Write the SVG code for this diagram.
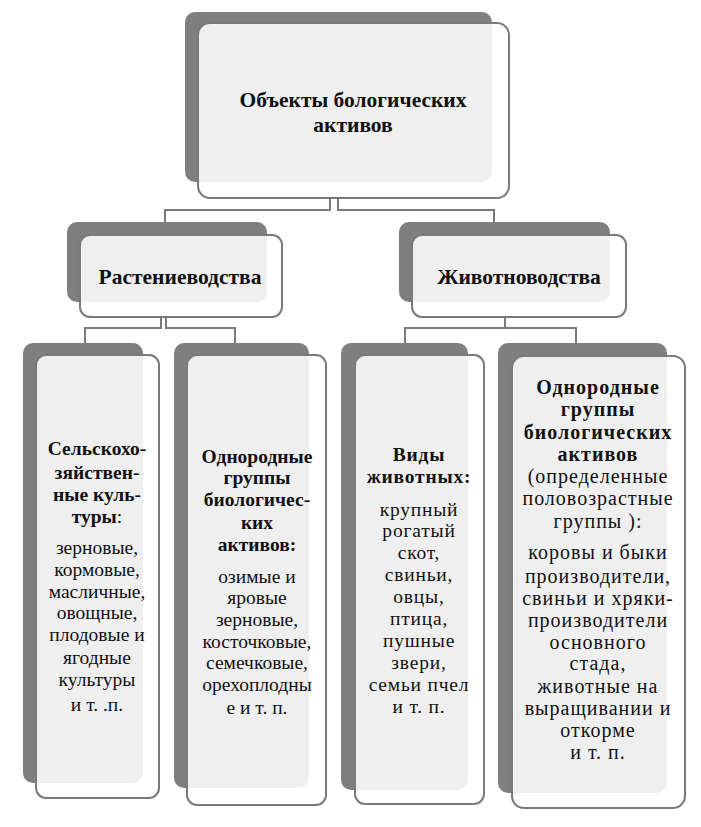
<svg xmlns="http://www.w3.org/2000/svg" width="701" height="827" viewBox="0 0 701 827">
<style>
.back{fill:#7f7f7f}
.front{fill:#fff;fill-opacity:0.88;stroke:#7a7a7a;stroke-width:2}
.con{fill:none;stroke:#7a7a7a;stroke-width:2}
text{fill:#111;text-anchor:middle;font-size:19.5px}
.b{font-weight:bold}
.h{font-weight:bold;font-size:21.5px}
.s3{font-size:19.5px;letter-spacing:0.8px}
.s4{font-size:20px;letter-spacing:1px}
</style>
<rect width="701" height="827" fill="#fff"/>
<g id="connectors">
<path class="con" d="M330,198 V210 H165 V224"/>
<path class="con" d="M338,198 V210 H494 V224"/>
<path class="con" d="M161,317 V328 H85 V345"/>
<path class="con" d="M166,317 V328 H235 V345"/>
<path class="con" d="M505,317 V328 H405 V345"/>
<path class="con" d="M505,328 H576 V345"/>
</g>
<g font-family="'Liberation Serif', serif">
<g id="root">
<rect class="back" x="185" y="12" width="307" height="170" rx="10"/>
<rect class="front" x="198" y="23" width="311" height="175" rx="12"/>
<text class="h" x="353" y="107">Объекты бологических</text>
<text class="h" x="353" y="132">активов</text>
</g>
<g id="plant">
<rect class="back" x="67" y="222" width="200" height="80" rx="10"/>
<rect class="front" x="80" y="235" width="202" height="82" rx="10"/>
<text class="h" x="180" y="284">Растениеводства</text>
</g>
<g id="animal">
<rect class="back" x="399" y="222" width="211" height="80" rx="10"/>
<rect class="front" x="412" y="235" width="214" height="82" rx="10"/>
<text class="h" x="519" y="284">Животноводства</text>
</g>
<g id="crops">
<rect class="back" x="23" y="343" width="120" height="440" rx="10"/>
<rect class="front" x="36" y="355" width="123" height="443" rx="10"/>
<text x="97" y="455" class="b">Сельскохо-</text>
<text x="97" y="479" class="b">зяйствен-</text>
<text x="97" y="501" class="b">ные куль-</text>
<text x="97" y="523"><tspan class="b">туры</tspan>:</text>
<text x="97" y="554">зерновые,</text>
<text x="97" y="576">кормовые,</text>
<text x="97" y="598">масличные,</text>
<text x="97" y="619">овощные,</text>
<text x="97" y="641">плодовые и</text>
<text x="97" y="664">ягодные</text>
<text x="97" y="686">культуры</text>
<text x="97" y="711">и  т. .п.</text>
</g>
<g id="plantgroups">
<rect class="back" x="174" y="343" width="135" height="445" rx="10"/>
<rect class="front" x="187" y="355" width="139" height="450" rx="10"/>
<text x="257" y="463" class="b">Однородные</text>
<text x="257" y="484" class="b">группы</text>
<text x="257" y="506" class="b">биологичес-</text>
<text x="257" y="529" class="b">ких</text>
<text x="257" y="551" class="b">активов:</text>
<text x="257" y="583">озимые и</text>
<text x="257" y="604">яровые</text>
<text x="257" y="626">зерновые,</text>
<text x="257" y="648">косточковые,</text>
<text x="257" y="669">семечковые,</text>
<text x="257" y="691">орехоплодны</text>
<text x="257" y="714">е и т. п.</text>
</g>
<g id="species">
<rect class="back" x="341" y="343" width="127" height="447" rx="10"/>
<rect class="front" x="355" y="355" width="129" height="449" rx="10"/>
<text x="419" y="461" class="b s3">Виды</text>
<text x="419" y="483" class="b s3">животных:</text>
<text x="419" y="516" class="s3">крупный</text>
<text x="419" y="537" class="s3">рогатый</text>
<text x="419" y="559" class="s3">скот,</text>
<text x="419" y="581" class="s3">свиньи,</text>
<text x="419" y="603" class="s3">овцы,</text>
<text x="419" y="625" class="s3">птица,</text>
<text x="419" y="647" class="s3">пушные</text>
<text x="419" y="669" class="s3">звери,</text>
<text x="419" y="691" class="s3">семьи пчел</text>
<text x="419" y="713" class="s3">и  т. п.</text>
</g>
<g id="animalgroups">
<rect class="back" x="498" y="343" width="169" height="450" rx="10"/>
<rect class="front" x="512" y="356" width="173" height="452" rx="12"/>
<text x="598" y="394" class="b s4">Однородные</text>
<text x="598" y="416" class="b s4">группы</text>
<text x="598" y="439" class="b s4">биологических</text>
<text x="598" y="461" class="b s4">активов</text>
<text x="598" y="483" class="s4">(определенные</text>
<text x="598" y="505" class="s4">половозрастные</text>
<text x="598" y="528" class="s4">группы ):</text>
<text x="598" y="559" class="s4">коровы и быки</text>
<text x="598" y="583" class="s4">производители,</text>
<text x="598" y="605" class="s4">свиньи и хряки-</text>
<text x="598" y="627" class="s4">производители</text>
<text x="598" y="649" class="s4">основного</text>
<text x="598" y="670" class="s4">стада,</text>
<text x="598" y="693" class="s4">животные на</text>
<text x="598" y="715" class="s4">выращивании и</text>
<text x="598" y="737" class="s4">откорме</text>
<text x="598" y="759" class="s4">и т. п.</text>
</g>
</g>
</svg>
